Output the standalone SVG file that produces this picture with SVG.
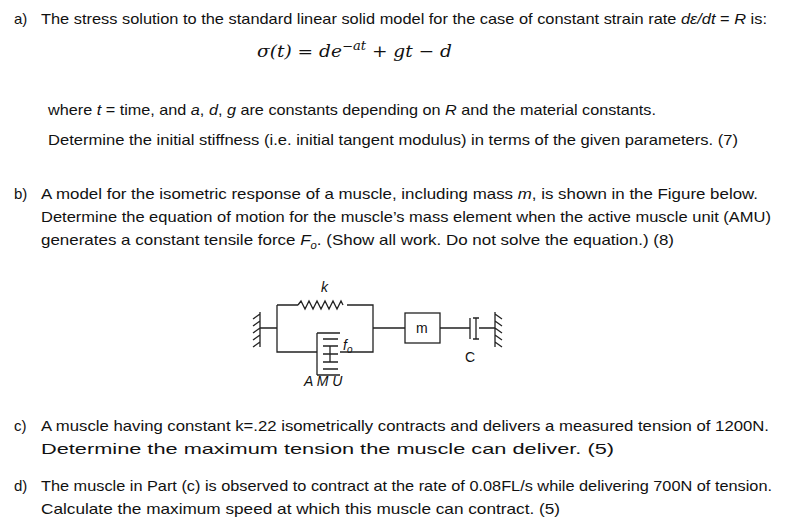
<svg xmlns="http://www.w3.org/2000/svg" width="796" height="519" viewBox="0 0 796 519">
<style>
.t{font-family:"Liberation Sans",sans-serif;font-size:15px;fill:#111}
.m{font-family:"DejaVu Serif","Liberation Serif",serif;font-style:italic;font-size:17px;fill:#111}
.h{font-family:"Liberation Sans",sans-serif;font-size:14px;fill:#111}
.l{stroke:#222;stroke-width:1.3;fill:none}
</style>
<rect width="796" height="519" fill="#fff"/>
<text class="t" x="14" y="24">a)</text>
<text class="t" x="41" y="24" textLength="726" lengthAdjust="spacingAndGlyphs">The stress solution to the standard linear solid model for the case of constant strain rate <tspan font-style="italic">dε/dt</tspan> = <tspan font-style="italic">R</tspan> is:</text>
<text class="m" x="257" y="57" textLength="195" lengthAdjust="spacingAndGlyphs">σ(t) = de<tspan font-size="12" dy="-7">−at</tspan><tspan dy="7"> + gt − d</tspan></text>
<text class="t" x="48" y="115" textLength="608" lengthAdjust="spacingAndGlyphs">where <tspan font-style="italic">t</tspan> = time, and <tspan font-style="italic">a</tspan>, <tspan font-style="italic">d</tspan>, <tspan font-style="italic">g</tspan> are constants depending on <tspan font-style="italic">R</tspan> and the material constants.</text>
<text class="t" x="48" y="145" textLength="690" lengthAdjust="spacingAndGlyphs">Determine the initial stiffness (i.e. initial tangent modulus) in terms of the given parameters. (7)</text>
<text class="t" x="14" y="199">b)</text>
<text class="t" x="41" y="199" textLength="717" lengthAdjust="spacingAndGlyphs">A model for the isometric response of a muscle, including mass <tspan font-style="italic">m</tspan>, is shown in the Figure below.</text>
<text class="t" x="41" y="222" textLength="730" lengthAdjust="spacingAndGlyphs">Determine the equation of motion for the muscle’s mass element when the active muscle unit (AMU)</text>
<text class="t" x="41" y="245" textLength="633" lengthAdjust="spacingAndGlyphs">generates a constant tensile force <tspan font-style="italic">F</tspan><tspan font-size="10" dy="4" font-style="italic">o</tspan><tspan dy="-4">.  (Show all work. Do not solve the equation.) (8)</tspan></text>
<g id="figure">
<g id="wallL"><path class="l" d="M260 312V347M260 314l-7 5M260 321l-7 5M260 328l-7 5M260 335l-7 5M260 342l-7 5"/></g>
<g id="wallR"><path class="l" d="M495 312V347M495 314l7 5M495 321l7 5M495 328l7 5M495 335l7 5M495 342l7 5"/></g>
<g id="spring"><path class="l" d="M298 305l3 -4l4 8l4 -8l4 8l4 -8l4 8l4 -8l4 8l4 -8l4 8l4 -8l2 4"/><text class="h" x="321" y="292" font-size="17" font-style="italic">k</text></g>
<g id="amu"><path class="l" d="M317 333H340M317 333V375M317 375H340M323 339H338M323 346H338M323 354H338M323 362H338M323 369H338M330 346V362"/><text class="h" x="343" y="350" font-size="16" font-style="italic">f<tspan font-size="10" dy="3">o</tspan></text><text class="h" x="304" y="386" font-size="12" font-style="italic">A M U</text></g>
<g id="mass"><rect class="l" x="405" y="313" width="35" height="30"/><text class="h" x="416" y="333">m</text></g>
<g id="damper"><path class="l" d="M470 318V339M476 318V339M473 318H479M473 339H479M468 328H470"/><text class="h" x="465" y="362" font-size="16">C</text></g>
<g id="connectors"><path class="l" d="M260 328H277M277 305V352H317M340 352H373V305H347M298 305H277M373 328H405M440 328H468M479 328H495"/></g>
</g>
<text class="t" x="14" y="431">c)</text>
<text class="t" x="41" y="431" textLength="728" lengthAdjust="spacingAndGlyphs">A muscle having constant k=.22 isometrically contracts and delivers a measured tension of 1200N.</text>
<text class="t" x="41" y="454" textLength="573" lengthAdjust="spacingAndGlyphs">Determine the maximum tension the muscle can deliver. (5)</text>
<text class="t" x="14" y="491">d)</text>
<text class="t" x="41" y="491" textLength="731" lengthAdjust="spacingAndGlyphs">The muscle in Part (c) is observed to contract at the rate of 0.08FL/s while delivering 700N of tension.</text>
<text class="t" x="41" y="514" textLength="519" lengthAdjust="spacingAndGlyphs">Calculate the maximum speed at which this muscle can contract. (5)</text>
</svg>
